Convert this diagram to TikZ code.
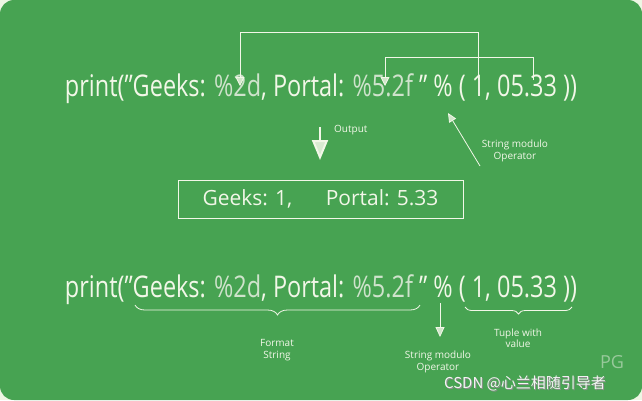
\documentclass[tikz,border=0pt]{standalone}
\usepackage{fontspec}
\setmainfont{Open Sans}
\newfontfamily\cjk{Noto Sans CJK SC}
\usetikzlibrary{arrows.meta,decorations.pathreplacing}
\definecolor{bgout}{HTML}{EEF6E4}
\definecolor{gfg}{HTML}{47A352}
\definecolor{wt}{HTML}{F2F7E8}
\definecolor{spec}{HTML}{CFE3CC}
\begin{document}
\begin{tikzpicture}[x=1pt,y=-1pt,
  code/.style={text=wt,inner sep=0,anchor=base},
  lbl/.style={text=wt,font=\fontsize{10}{11.5}\selectfont,align=center,inner sep=1pt},
  ln/.style={draw=wt,line width=0.9pt},
  arr/.style={ln,-{Triangle[fill=wt!80!gfg,length=9pt,width=9pt]}},
  br/.style={draw=wt,line width=0.8pt,decorate,decoration={brace,amplitude=10pt,mirror}}]
\useasboundingbox (0,0) rectangle (642,400);
\fill[bgout] (0,0) rectangle (642,400);
\fill[gfg,rounded corners=14pt] (0,0) rectangle (642,400);
\newcommand{\codeline}{\resizebox*{512pt}{30pt}{print(\symbol{34}Geeks: \textcolor{spec}{\%2d}, Portal: \textcolor{spec}{\%5.2f} \symbol{34} \% ( 1, 05.33 ))}}
\node[code] (c1) at (321,96) {\codeline};
\node[code] (c2) at (321,297) {\codeline};
% top connectors
\coordinate (t1) at (478,80);
\coordinate (t2) at (533,80);
\coordinate (h1) at (240,86);
\coordinate (h2) at (385,86);
\draw[arr] (t1) -- (478,32) -| (h1);
\draw[arr] (t2) -- (533,57) -| (h2);
% output
\coordinate (o1) at (320,127);
\node[draw=wt,line width=1pt,minimum width=285pt,minimum height=38pt,inner sep=0] (box) at (320.5,199) {};
\node[text=wt,font=\fontsize{22}{24}\selectfont] (out) at (box) {\resizebox{236pt}{!}{Geeks: 1,\hspace{1.6em}Portal: 5.33}};
\draw[ln,line width=2pt,-{Triangle[fill=wt!85!gfg,length=20pt,width=16pt]}] (o1) -- (320,160);
\node[lbl,anchor=west] (olab) at (333,130) {Output};
\node[lbl] (sm1) at (515,151) {String modulo\\Operator};
\draw[ln,line width=0.8pt,-{Triangle[fill=wt!80!gfg,length=9pt,width=8pt]}] (480,166) coordinate (s1) -- (448,113);
% bottom
\draw[br] (135,305) -- (420,305);
\node[lbl] (fs) at (277,350) {Format\\String};
\draw[br,decoration={amplitude=7pt}] (465,307) -- (572,307);
\node[lbl] (tv) at (518,338) {Tuple with\\value};
\coordinate (p1) at (440,303);
\draw[ln,line width=0.8pt,-{Triangle[fill=wt!80!gfg,length=10pt,width=9pt]}] (p1) -- (440,337);
\node[lbl] (sm2) at (438,362) {String modulo\\Operator};
\node[text=spec!60!gfg,font=\fontsize{18}{18}\selectfont,inner sep=0] (pg) at (612,362) {PG};
\node[text=black!45,font=\cjk\fontsize{15}{15}\selectfont,inner sep=1pt] (csdn) at (526,384) {CSDN @心兰相随引导者};
\node[text=white!92!gray,font=\cjk\fontsize{15}{15}\selectfont,inner sep=1pt] (csdn2) at (525,383) {CSDN @心兰相随引导者};
\end{tikzpicture}
\end{document}
